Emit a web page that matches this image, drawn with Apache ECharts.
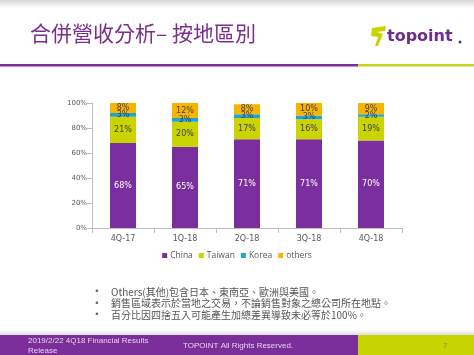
<!DOCTYPE html>
<html><head><meta charset="utf-8">
<script src="https://cdn.jsdelivr.net/npm/echarts@6/dist/echarts.min.js"></script>
<style>html,body{margin:0;padding:0;background:#fff}#c{width:474px;height:355px}</style>
</head><body><div id="c"></div>
<script>
const categories = ['4Q-17','1Q-18','2Q-18','3Q-18','4Q-18'];
const china  = [68, 65, 71, 71, 70];
const taiwan = [21, 20, 17, 16, 19];
const korea  = [3, 3, 3, 3, 2];
const others = [8, 12, 8, 10, 9];
const yTicks = ['0%','20%','40%','60%','80%','100%'];
const titleText = '合併營收分析– 按地區別';
const notes = ['Others(其他)包含日本、東南亞、歐洲與美國。','銷售區域表示於當地之交易，不論銷售對象之總公司所在地點。','百分比因四捨五入可能產生加總差異導致未必等於100%。'];
const footerLeft = ['2019/2/22 4Q18 Financial Results','Release'];
const footerMid = 'TOPOINT All Rights Reserved.';
const pageNo = '7';

const PURPLE='#7B2E9E', GREEN='#C9D400', BLUE='#1FA4D4', ORANGE='#F8B500';
const chart = echarts.init(document.getElementById('c'), null, {renderer:'canvas'});
function mk(name, data, color, labelColor){
  return {name, type:'bar', stack:'t', data, barWidth:26, itemStyle:{color},
    label:{show:true, position:'inside', formatter:p=>p.value+'%', fontSize:8, color:labelColor, fontFamily:'DejaVu Sans'}};
}
const graphics = [
  {type:'rect', shape:{x:0,y:0,width:474,height:8}, style:{fill:new echarts.graphic.LinearGradient(0,0,0,1,[{offset:0,color:'#d8d8d8'},{offset:1,color:'#ffffff'}])}},
  {type:'text', x:30, y:33, style:{text:titleText, fill:'#7A2E90', font:'21px "Noto Sans CJK TC"', textVerticalAlign:'middle'}},
  {type:'polygon', shape:{points:[[372,28],[386,26],[385,31],[377,32],[383,34],[378,46],[375,46],[378,37],[371,36]]}, style:{fill:GREEN}},
  {type:'text', x:387, y:37, style:{text:'topoint', fill:'#6E2C8C', font:'bold 16px "DejaVu Sans"', textVerticalAlign:'middle'}},
  {type:'circle', shape:{cx:460,cy:42,r:1.5}, style:{fill:'#6E2C8C'}},
  {type:'rect', shape:{x:0,y:64,width:358,height:2.5}, style:{fill:'#7B2E9E'}},
  {type:'rect', shape:{x:358,y:64,width:116,height:2.5}, style:{fill:'#C8D41E'}},
  {type:'rect', shape:{x:0,y:330,width:474,height:5}, style:{fill:new echarts.graphic.LinearGradient(0,0,0,1,[{offset:0,color:'#ffffff'},{offset:1,color:'#dddddd'}])}},
  {type:'rect', shape:{x:0,y:335,width:358,height:20}, style:{fill:'#7A2E9A'}},
  {type:'rect', shape:{x:358,y:335,width:116,height:20}, style:{fill:'#C8D400'}},
  {type:'text', x:28, y:341, style:{text:footerLeft[0], fill:'#E6D2EE', font:'8px "Liberation Sans"', textVerticalAlign:'middle'}},
  {type:'text', x:28, y:351, style:{text:footerLeft[1], fill:'#E6D2EE', font:'8px "Liberation Sans"', textVerticalAlign:'middle'}},
  {type:'text', x:183, y:346, style:{text:footerMid, fill:'#E6D2EE', font:'8px "Liberation Sans"', textVerticalAlign:'middle'}},
  {type:'text', x:443, y:346, style:{text:pageNo, fill:'#8a8a60', font:'8px "Liberation Sans"', textVerticalAlign:'middle'}}
];
notes.forEach((t,i)=>{
  const y = 292 + i*11.5;
  graphics.push({type:'text', x:97, y, style:{text:'•', fill:'#666', font:'9px "DejaVu Sans"', textAlign:'center', textVerticalAlign:'middle'}});
  graphics.push({type:'text', x:111, y, style:{text:t, fill:'#555', font:'10px "Noto Sans CJK TC"', textVerticalAlign:'middle'}});
});
chart.setOption({
  animation:false,
  textStyle:{fontFamily:'DejaVu Sans'},
  grid:{left:92, right:72, top:103, bottom:127, containLabel:false},
  legend:{data:['China','Taiwan','Korea','others'], left:'center', top:246, itemWidth:5, itemHeight:5, itemGap:6, icon:'rect',
    textStyle:{fontSize:8.5, color:'#595959', fontFamily:'Open Sans', padding:[0,0,0,-2]}},
  xAxis:{type:'category', data:categories, axisLine:{lineStyle:{color:'#bfbfbf'}}, axisTick:{show:true, lineStyle:{color:'#bfbfbf'}},
    axisLabel:{fontSize:8, color:'#595959', margin:7}},
  yAxis:{type:'value', min:0, max:100, interval:20, axisLine:{show:true, lineStyle:{color:'#bfbfbf'}}, axisTick:{show:true, lineStyle:{color:'#bfbfbf'}},
    splitLine:{show:false}, axisLabel:{fontSize:7, color:'#595959', formatter:v=>yTicks[v/20], margin:5}},
  series:[mk('China',china,PURPLE,'#ffffff'), mk('Taiwan',taiwan,GREEN,'#404040'), mk('Korea',korea,BLUE,'#404040'), mk('others',others,ORANGE,'#404040')],
  graphic:graphics
});
</script></body></html>
